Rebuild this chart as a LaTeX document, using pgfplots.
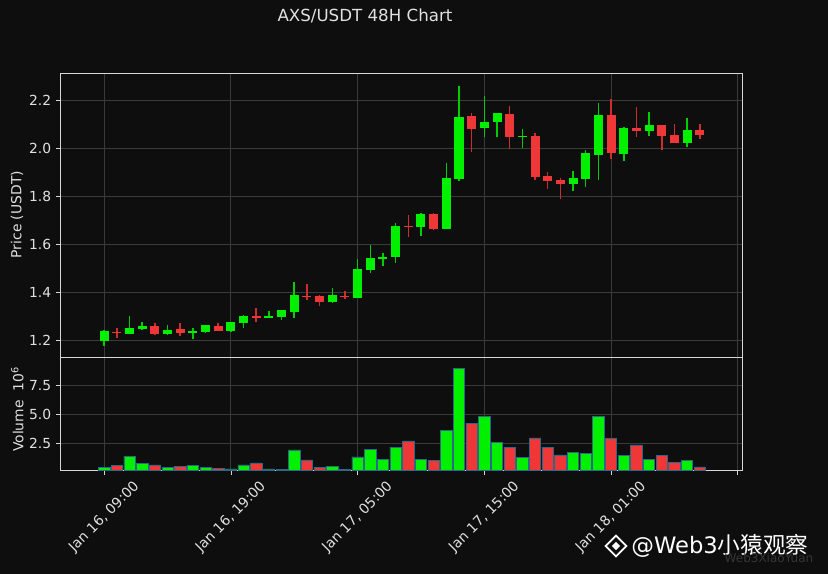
\documentclass[border=0pt]{standalone}
\usepackage{fontspec}
\setmainfont{DejaVu Sans}
\newfontfamily\cjk{Noto Sans CJK SC}
\usepackage{graphicx}
\usepackage{pgfplots}
\pgfplotsset{compat=1.18}
\usepackage{pgfplotstable}
\definecolor{bg}{RGB}{14,14,14}
\definecolor{upc}{RGB}{0,240,0}
\definecolor{dnc}{RGB}{240,55,55}
\definecolor{upw}{RGB}{0,205,0}
\definecolor{dnw}{RGB}{205,45,45}
\definecolor{gridc}{RGB}{58,58,58}
\definecolor{spine}{RGB}{215,215,215}
\definecolor{txt}{RGB}{225,225,225}
\definecolor{voledge}{RGB}{45,105,135}

% t = hours after Jan 16 09:00
\pgfplotstableread{
t  O     H     L     C     V
0  1.197 1.245 1.180 1.239 0.42
2  1.230 1.304 1.228 1.255 1.37
3  1.251 1.280 1.246 1.261 0.76
5  1.229 1.265 1.226 1.246 0.38
7  1.231 1.253 1.208 1.241 0.56
8  1.236 1.267 1.234 1.265 0.38
10 1.240 1.280 1.238 1.278 0.27
11 1.274 1.306 1.253 1.304 0.62
13 1.296 1.325 1.295 1.303 0.27
14 1.299 1.330 1.288 1.328 0.21
15 1.321 1.445 1.293 1.390 1.92
18 1.360 1.418 1.357 1.392 0.47
20 1.380 1.540 1.378 1.499 1.31
21 1.496 1.600 1.482 1.546 1.98
22 1.541 1.565 1.510 1.551 1.11
23 1.547 1.690 1.526 1.676 2.15
25 1.672 1.731 1.635 1.729 1.08
27 1.667 1.940 1.665 1.876 3.59
28 1.874 2.261 1.864 2.133 9.01
30 2.085 2.218 2.047 2.112 4.81
31 2.110 2.149 2.049 2.147 2.55
33 2.049 2.082 2.003 2.053 1.25
37 1.854 1.907 1.824 1.876 1.69
38 1.872 1.996 1.839 1.982 1.60
39 1.975 2.190 1.870 2.142 4.81
41 1.980 2.092 1.947 2.086 1.43
43 2.072 2.153 2.055 2.100 1.11
46 2.024 2.128 2.008 2.079 1.02
}\up

\pgfplotstableread{
t  O     H     L     C     V
1  1.237 1.254 1.210 1.235 0.59
4  1.262 1.274 1.224 1.229 0.62
6  1.247 1.274 1.221 1.233 0.50
9  1.262 1.272 1.239 1.240 0.33
12 1.303 1.336 1.279 1.299 0.79
16 1.387 1.437 1.371 1.383 1.05
17 1.385 1.392 1.346 1.363 0.42
19 1.388 1.407 1.374 1.384 0.24
24 1.678 1.725 1.632 1.674 2.70
26 1.726 1.733 1.663 1.665 1.02
29 2.136 2.149 1.985 2.083 4.20
32 2.145 2.179 1.997 2.050 2.15
34 2.053 2.065 1.868 1.883 2.96
35 1.885 1.905 1.833 1.867 2.15
36 1.870 1.878 1.789 1.855 1.48
40 2.142 2.205 1.958 1.982 2.90
42 2.085 2.174 2.050 2.073 2.35
44 2.097 2.100 1.996 2.054 1.43
45 2.057 2.105 2.022 2.024 0.82
47 2.076 2.104 2.040 2.057 0.44
}\down

\pgfplotsset{
  base/.style={
    scale only axis, width=511.5pt,
    xmin=-3.44, xmax=50.39,
    axis line style={spine, line width=0.75pt},
    axis background/.style={fill=bg},
    grid=major,
    major grid style={gridc, line width=0.75pt},
    tick style={spine, line width=0.6pt},
    major tick length=3.6pt,
    tick align=outside,
    xtick={0,10,20,30,40,50},
    ticklabel style={txt, font=\fontsize{10.4}{12}\selectfont},
  },
  wick/.style={only marks, mark=*, mark size=0pt, mark options={draw=none, fill=none}, forget plot,
    error bars/.cd, y dir=both, y explicit, error mark=none,
    error bar style={#1, line width=1.2pt}},
  body/.style={only marks, mark=*, mark size=0pt, mark options={draw=none, fill=none}, forget plot,
    error bars/.cd, y dir=both, y explicit, error mark=none,
    error bar style={#1, line width=6.75pt}},
}

\begin{document}
\begin{tikzpicture}
\fill[bg] (0,0) rectangle (621pt,430.5pt);
\useasboundingbox (0,0) rectangle (621pt,430.5pt);

\begin{axis}[base, at={(45.5pt,162.5pt)}, anchor=south west, height=213pt,
  ymin=1.131, ymax=2.314,
  ytick={1.2,1.4,1.6,1.8,2.0,2.2}, yticklabels={1.2,1.4,1.6,1.8,2.0,2.2},
  xticklabels={}, xmajorticks=false, ytick pos=left]
\addplot[wick=upw] table[x=t, y expr={(\thisrow{H}+\thisrow{L})/2}, y error expr={(\thisrow{H}-\thisrow{L})/2}] {\up};
\addplot[wick=dnw] table[x=t, y expr={(\thisrow{H}+\thisrow{L})/2}, y error expr={(\thisrow{H}-\thisrow{L})/2}] {\down};
\addplot[body=upc] table[x=t, y expr={(\thisrow{O}+\thisrow{C})/2}, y error expr={max(abs(\thisrow{C}-\thisrow{O})/2,0.002)}] {\up};
\addplot[body=dnc] table[x=t, y expr={(\thisrow{O}+\thisrow{C})/2}, y error expr={max(abs(\thisrow{C}-\thisrow{O})/2,0.002)}] {\down};
\end{axis}

\begin{axis}[base, at={(45.5pt,77.8pt)}, anchor=south west, height=84.75pt,
  ymin=0.15, ymax=9.97,
  ytick={2.5,5,7.5}, yticklabels={2.5,5.0,7.5},
  xticklabels={\rotatebox{45}{Jan 16, 09:00},\rotatebox{45}{Jan 16, 19:00},\rotatebox{45}{Jan 17, 05:00},\rotatebox{45}{Jan 17, 15:00},\rotatebox{45}{Jan 18, 01:00},{}},
  xticklabel style={anchor=north},
  xtick pos=bottom, ytick pos=left]
\addplot[ybar, bar width=0.9, bar shift=0pt, fill=upc, draw=voledge, line width=0.5pt] table[x=t, y=V] {\up};
\addplot[ybar, bar width=0.9, bar shift=0pt, fill=dnc, draw=voledge, line width=0.5pt] table[x=t, y=V] {\down};
\end{axis}

\node[txt, font=\fontsize{12.5}{15}\selectfont] at (273.75pt,418.5pt) {AXS/USDT 48H Chart};
\node[txt, rotate=90, font=\fontsize{10.4}{12}\selectfont] at (12.75pt,269.5pt) {Price (USDT)};
\node[txt, rotate=90, font=\fontsize{10.4}{12}\selectfont] at (13pt,123.4pt) {Volume \ 10\textsuperscript{6}};

% watermark
\begin{scope}[shift={(462pt,21pt)}]
  \draw[white, line width=1.3pt, rotate=45] (-5.5pt,-5.5pt) rectangle (5.5pt,5.5pt);
  \fill[white, rotate=45] (-2.2pt,-2.2pt) rectangle (2.2pt,2.2pt);
\end{scope}
\node[white, anchor=west, font=\fontsize{17}{20}\selectfont] at (470pt,21pt) {@Web3{\cjk 小猿观察}};
\node[gray!35!bg, anchor=west, font=\fontsize{9}{11}\selectfont] at (540pt,12pt) {Web3XiaoYuan};
\end{tikzpicture}
\end{document}
